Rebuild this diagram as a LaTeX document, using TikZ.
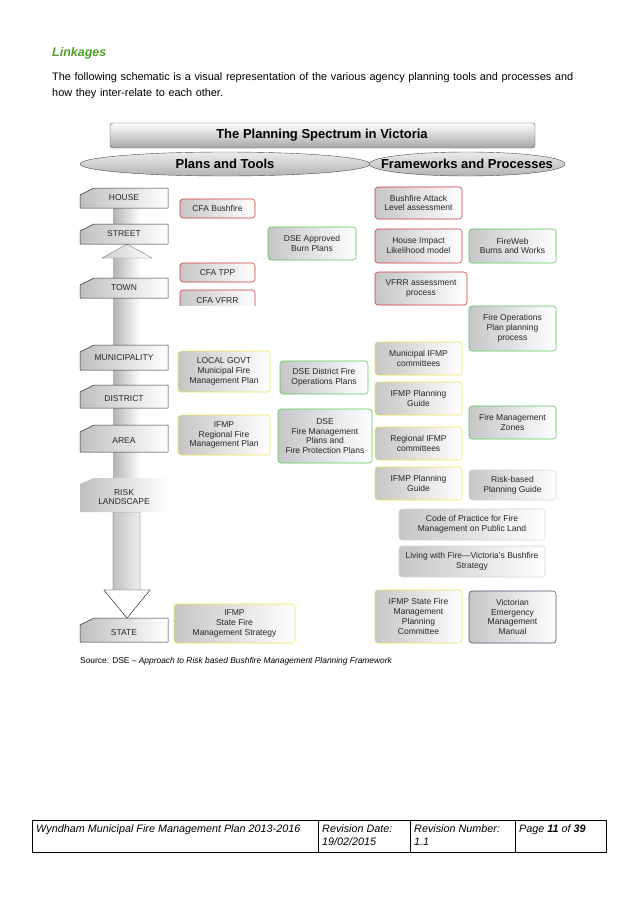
\documentclass[tikz,border=0pt]{standalone}
\usepackage{fontspec}
\setmainfont{Liberation Sans}
\usetikzlibrary{calc,shapes.geometric}
\definecolor{lgreen}{RGB}{80,160,40}
\definecolor{bred}{RGB}{205,60,60}
\definecolor{bgreen}{RGB}{90,200,90}
\definecolor{byel}{RGB}{235,230,90}
\definecolor{bgray}{RGB}{215,215,215}
\definecolor{bblue}{RGB}{80,80,110}
\tikzset{
 bx/.style={rounded corners=3pt, left color=gray!45, right color=white, line width=0.6pt},
 bt/.style={align=center, font=\fontsize{8.5}{9.8}\selectfont, inner sep=0pt, text=black!85},
 lvl/.style={left color=gray!50, right color=white, draw=black!80, line width=0.5pt},
 shaft/.style={left color=gray!60, right color=white, draw=none},
 hdr/.style={font=\bfseries\fontsize{13}{14}\selectfont}
}
\newcommand\bxx[7]{\path[bx,draw=#6] (#2,#3) rectangle (#4,#5);
 \node[bt] (#1) at ($(#2,#3)!0.5!(#4,#5)$) {#7};}
\newcommand\lvlbox[5]{\path[lvl] (80,#3)--(80,#2+7)--(94,#2)--(168,#2)--(168,#3)--cycle;
 \node[bt] (#1) at (124,{(#2+#3)/2+#5}) {#4};}
\begin{document}
\begin{tikzpicture}[x=1pt,y=-1pt]
\useasboundingbox (0,0) rectangle (638,903);
\fill[white] (0,0) rectangle (638,903);
\node[anchor=west, inner sep=0pt, font=\bfseries\itshape\fontsize{12.5}{14}\selectfont, text=lgreen] (lk) at (52,53) {Linkages};
\node[anchor=north west, align=left, font=\fontsize{10.9}{16}\selectfont, inner sep=0pt, text width=580pt] (intro) at (52,72) {The following schematic is a visual representation of the various agency planning tools and processes and\\how they inter-relate to each other.};
% title
\path[rounded corners=3pt, top color=white, bottom color=gray!70, draw=black!70] (110,123) rectangle (535,148);
\node[hdr] (title) at (322,135.5) {The Planning Spectrum in Victoria};
\path[top color=gray!15, bottom color=gray!60, draw=black!70] (225,164) ellipse [x radius=145, y radius=12];
\node[hdr] (pt) at (225,164) {Plans and Tools};
\path[top color=gray!15, bottom color=gray!60, draw=black!70] (467,164) ellipse [x radius=98, y radius=12];
\node[hdr] (fp) at (467,164) {Frameworks and Processes};
% shafts
\path[shaft] (113,206) rectangle (140,226);
\path[shaft] (113,258) rectangle (140,280);
\path[shaft] (113,296) rectangle (140,480);
\path[left color=gray!40, right color=white, draw=black!50] (102,258)--(127,244)--(152,258)--cycle;
\path[shaft, draw=black!80] (113,590)--(113,512)--(140,512)--(140,590)--(150,590)--(127,618)--(104,590)--cycle;
\path[fill=white, draw=black!80] (104,590)--(127,618)--(150,590)--cycle;
% levels
\lvlbox{house}{188}{208}{HOUSE}{0}
\lvlbox{street}{224}{244}{STREET}{0}
\lvlbox{town}{278}{298}{TOWN}{0}
\lvlbox{muni}{345}{370}{MUNICIPALITY}{0}
\lvlbox{dist}{385}{408}{DISTRICT}{2}
\lvlbox{area}{425}{452}{AREA}{2}
\path[left color=gray!50, right color=white] (80,512)--(80,484)--(94,478)--(168,478)--(168,512)--cycle;
\node[bt] (risk) at (124,497) {RISK\\LANDSCAPE};
\lvlbox{state}{618}{642}{STATE}{3}
% left column boxes
\bxx{cfab}{180}{199}{255}{218}{bred}{CFA Bushfire}
\bxx{cfat}{180}{263}{255}{282}{bred}{CFA TPP}
\begin{scope}
\clip (170,288) rectangle (260,305);
\bxx{cfav}{180}{290}{255}{312}{bred}{\raisebox{-3pt}{CFA VFRR}}
\end{scope}
\bxx{dseab}{268}{227}{356}{260}{bgreen}{DSE Approved\\Burn Plans}
\bxx{lg}{178}{351}{270}{392}{byel}{LOCAL GOVT\\Municipal Fire\\Management Plan}
\bxx{dsed}{280}{361}{368}{394}{bgreen}{DSE District Fire\\Operations Plans}
\bxx{ifr}{178}{415}{270}{455}{byel}{IFMP\\Regional Fire\\Management Plan}
\bxx{dsef}{278}{409}{372}{463}{bgreen}{DSE\\Fire Management\\Plans and\\Fire Protection Plans}
\bxx{ifs}{174}{604}{295}{643}{byel}{IFMP\\State Fire\\Management Strategy}
% right
\bxx{bal}{375}{187}{462}{219}{bred}{Bushfire Attack\\Level assessment}
\bxx{hil}{375}{229}{462}{263}{bred}{House Impact\\Likelihood model}
\bxx{fw}{469}{229}{556}{263}{bgreen}{FireWeb\\Burns and Works}
\bxx{vfrr}{375}{272}{467}{305}{bred}{VFRR assessment\\process}
\bxx{fop}{469}{306}{556}{351}{bgreen}{Fire Operations\\Plan planning\\process}
\bxx{mic}{375}{342}{462}{375}{byel}{Municipal IFMP\\committees}
\bxx{ipg}{375}{382}{462}{415}{byel}{IFMP Planning\\Guide}
\bxx{fmz}{469}{406}{556}{439}{bgreen}{Fire Management\\Zones}
\bxx{ric}{375}{427}{462}{460}{byel}{Regional IFMP\\committees}
\bxx{ipg2}{375}{467}{462}{500}{byel}{IFMP Planning\\Guide}
\bxx{rpg}{469}{470}{556}{500}{bgray}{Risk-based\\Planning Guide}
\bxx{cop}{399}{509}{545}{540}{bgray}{Code of Practice for Fire\\Management on Public Land}
\bxx{lwf}{399}{546}{545}{577}{bgray}{Living with Fire---Victoria's Bushfire\\Strategy}
\bxx{isc}{375}{590}{462}{643}{byel}{IFMP State Fire\\Management\\Planning\\Committee}
\bxx{vem}{469}{591}{556}{643}{bblue}{Victorian\\Emergency\\Management\\Manual}
\node[anchor=west, font=\fontsize{8.4}{10}\selectfont, inner sep=0pt] (src) at (80,661) {Source: DSE -- \textit{Approach to Risk based Bushfire Management Planning Framework}};
% footer
\draw[line width=0.5pt] (32,820) rectangle (606,852) (318,820)--(318,852) (410,820)--(410,852) (515,820)--(515,852);
\begin{scope}[every node/.style={anchor=north west, align=left, inner sep=0pt, font=\itshape\fontsize{10.8}{13}\selectfont}]
\node (f1) at (36,824) {Wyndham Municipal Fire Management Plan 2013-2016};
\node (f2) at (322,824) {Revision Date:\\19/02/2015};
\node (f3) at (414,824) {Revision Number:\\1.1};
\node (f4) at (519,824) {Page \textbf{11} of \textbf{39}};
\end{scope}
\end{tikzpicture}
\end{document}
